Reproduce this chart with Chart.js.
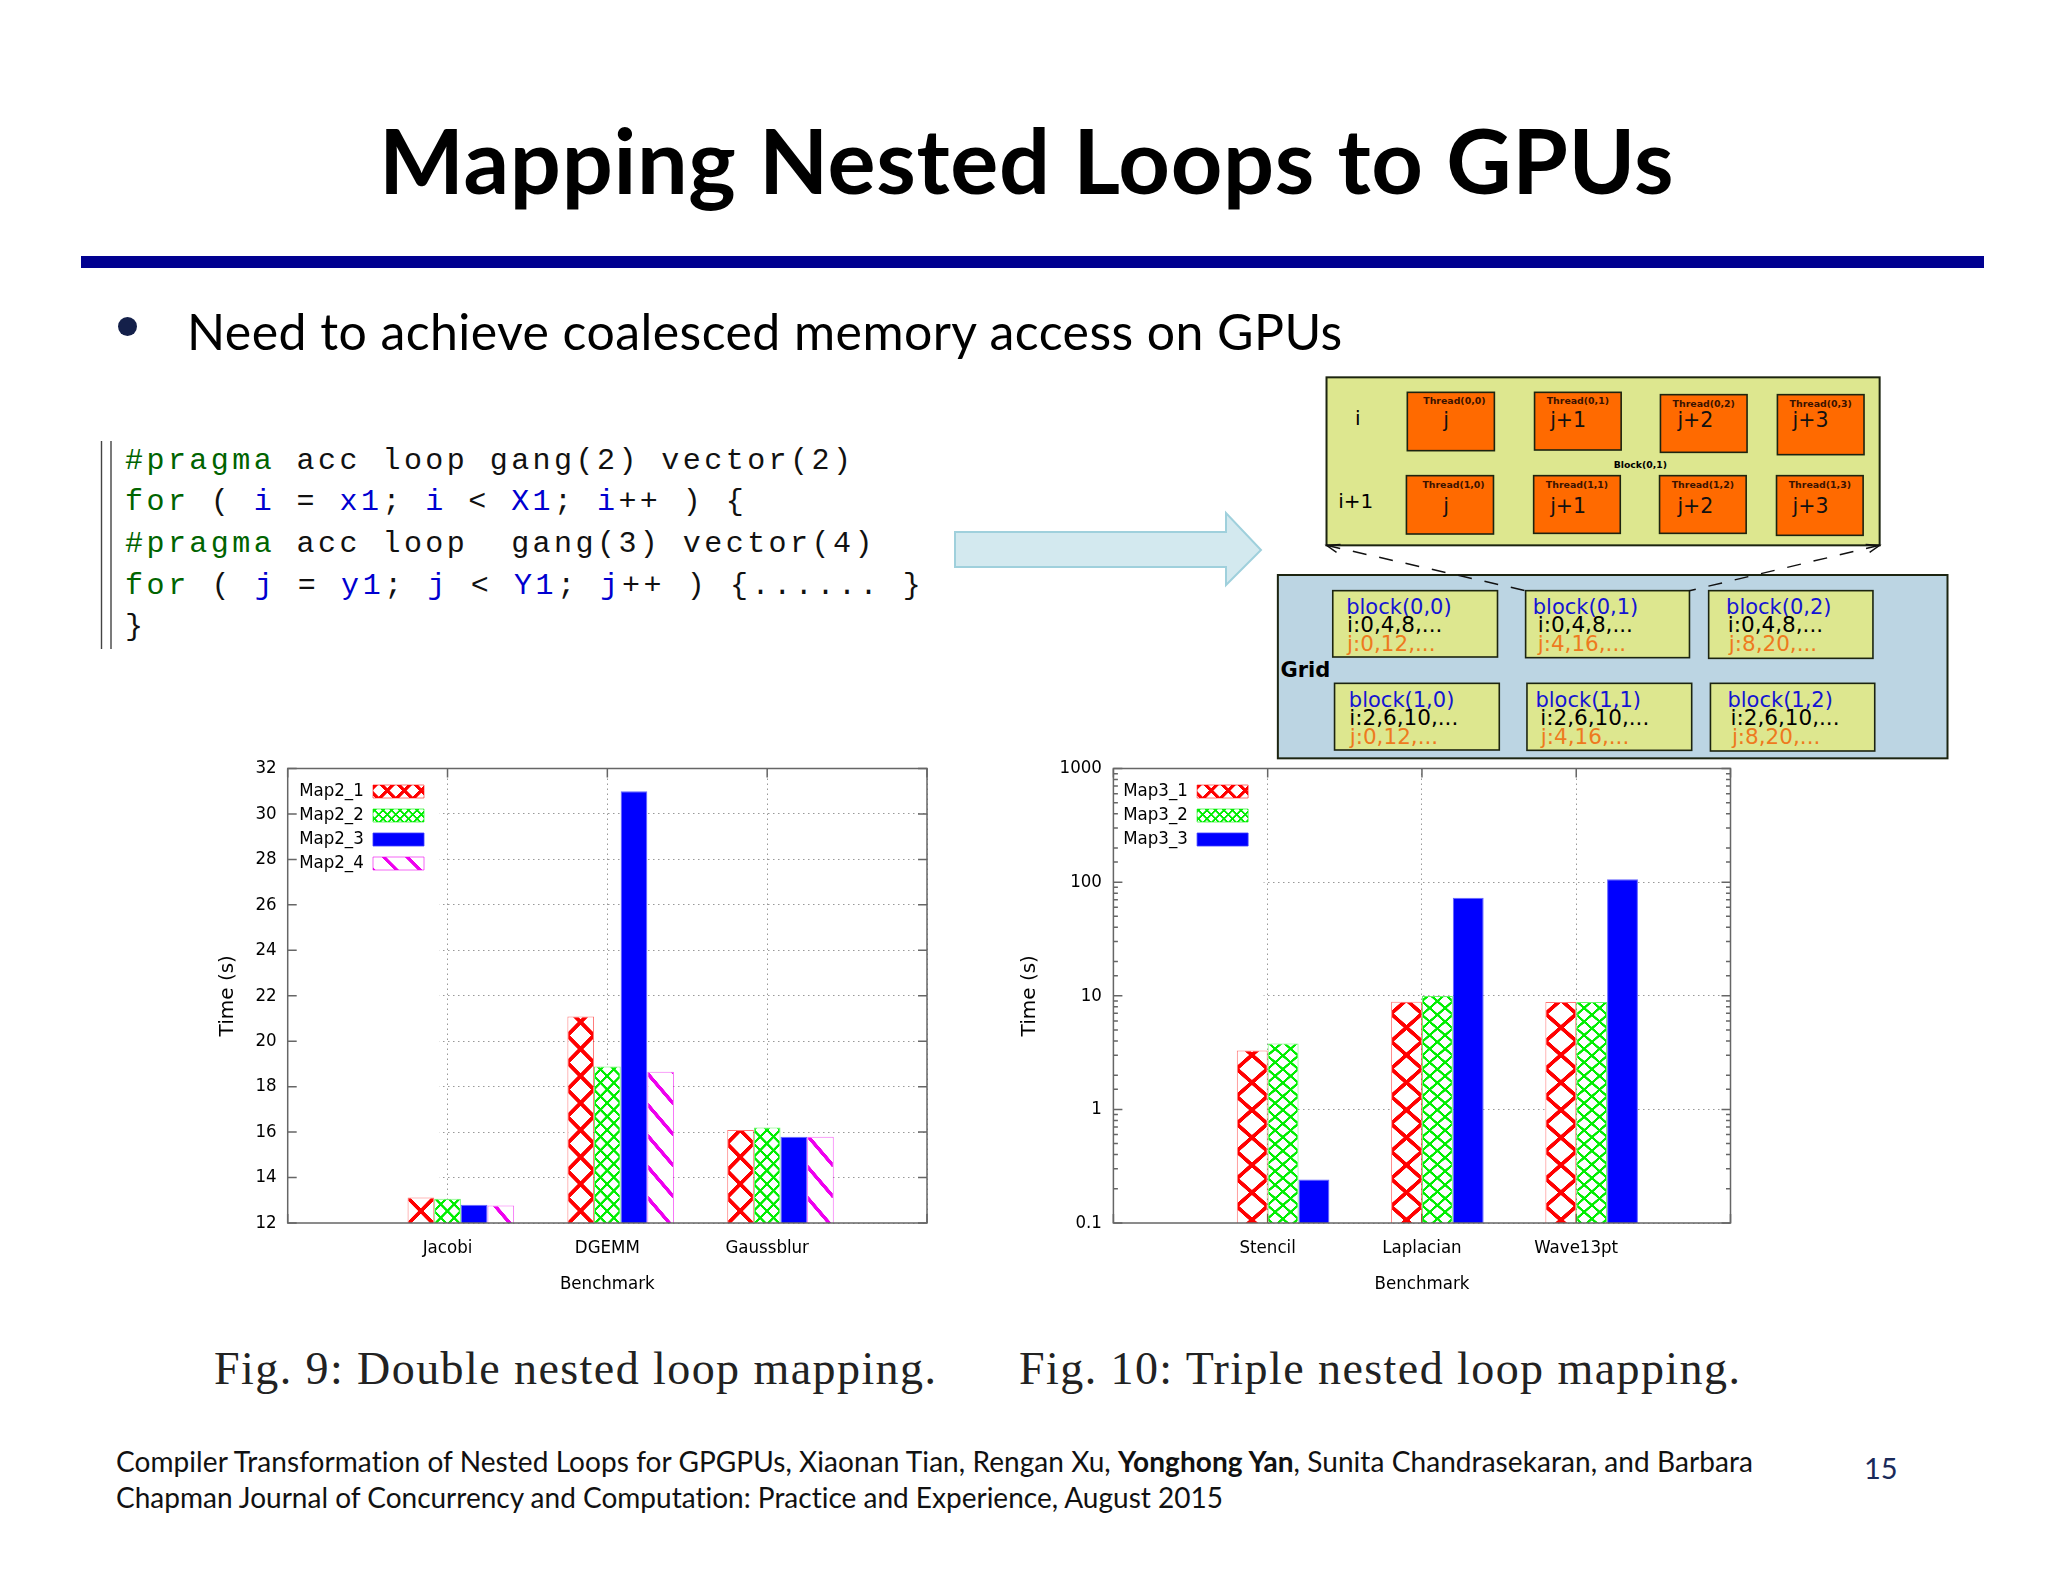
<!DOCTYPE html>
<html><head><meta charset="utf-8">
<script src="https://cdn.jsdelivr.net/npm/chart.js@4/dist/chart.umd.min.js"></script>
<style>
html,body{margin:0;padding:0;background:#fff;width:2048px;height:1582px;overflow:hidden}
.t{position:absolute;white-space:pre;color:#000;transform-origin:0 50%}
canvas{position:absolute}
#title{left:379px;top:104px;font:700 90px/110px Lato;letter-spacing:.65px}
#rule{position:absolute;left:81px;top:256px;width:1903px;height:12px;background:#000090}
#dot{position:absolute;left:118px;top:317px;width:19px;height:19px;border-radius:50%;background:#14204a}
#need{left:187px;top:298px;font:400 50px/66px Lato;letter-spacing:.43px}
.code{font:400 30px/40px "Liberation Mono";letter-spacing:3.45px;left:125px;color:#111}
.g{color:#006400}.b{color:#0000d0}
.cap{font:400 46px/56px "Liberation Serif";color:#222;letter-spacing:1.43px}
.foot{font:400 28px/36px Lato;left:116px;color:#111}
.t,.t *{font-variant-ligatures:none}
svg{position:absolute;left:0;top:0}
</style></head><body>
<div class="t" id="title">Mapping Nested Loops to GPUs</div>
<div id="rule"></div><div id="dot"></div>
<div class="t" id="need">Need to achieve coalesced memory access on GPUs</div>
<div class="t code" style="top:441px"><span class="g">#pragma</span> acc loop gang(2) vector(2)</div>
<div class="t code" style="top:482px"><span class="g">for</span> ( <span class="b">i</span> = <span class="b">x1</span>; <span class="b">i</span> &lt; <span class="b">X1</span>; <span class="b">i</span>++ ) {</div>
<div class="t code" style="top:524px"><span class="g">#pragma</span> acc loop  gang(3) vector(4)</div>
<div class="t code" style="top:566px;letter-spacing:3.6px"><span class="g">for</span> ( <span class="b">j</span> = <span class="b">y1</span>; <span class="b">j</span> &lt; <span class="b">Y1</span>; <span class="b">j</span>++ ) {...... }</div>
<div class="t code" style="top:607px">}</div>
<svg id="dia" width="2048" height="1582"></svg>
<canvas id="c1" width="760" height="580" style="left:200px;top:750px"></canvas>
<canvas id="c2" width="760" height="580" style="left:1000px;top:750px"></canvas>
<div class="t cap" id="cap1" style="left:214px;top:1341px">Fig. 9: Double nested loop mapping.</div>
<div class="t cap" id="cap2" style="left:1019px;top:1341px">Fig. 10: Triple nested loop mapping.</div>
<div class="t foot" id="f1" style="top:1443px;letter-spacing:.07px">Compiler Transformation of Nested Loops for GPGPUs, Xiaonan Tian, Rengan Xu, <b>Yonghong Yan</b>, Sunita Chandrasekaran, and Barbara</div>
<div class="t foot" id="f2" style="top:1479px">Chapman Journal of Concurrency and Computation: Practice and Experience, August 2015</div>
<div class="t" style="left:1864px;top:1450px;font:400 29px/36px Lato;color:#1a2a5a">15</div>
<script>
// ---- chart data ----
const categories1 = ['Jacobi', 'DGEMM', 'Gaussblur'];
const map2_1 = [13.12, 21.09, 16.09];
const map2_2 = [13.07, 18.89, 16.2];
const map2_3 = [12.8, 31.0, 15.8];
const map2_4 = [12.77, 18.66, 15.8];
const categories2 = ['Stencil', 'Laplacian', 'Wave13pt'];
const map3_1 = [3.3, 8.87, 8.8];
const map3_2 = [3.8, 9.93, 8.8];
const map3_3 = [0.242, 72.9, 106];
const yTicks2 = [0.1, 1, 10, 100, 1000];

const FONT = "'DejaVu Sans Condensed','DejaVu Sans'";
const padRow = a => [null, ...a, null];
const padCat = a => ['', ...a, ''];

// hatch tiles
function hatch(w, h, color, lw, kind, ox, oy) {
  const S = 4, tw = Math.round(w * S), th = Math.round(h * S);
  const c = document.createElement('canvas'); c.width = tw; c.height = th;
  const x = c.getContext('2d');
  x.fillStyle = '#fff'; x.fillRect(0, 0, tw, th);
  x.strokeStyle = color; x.lineWidth = lw * S;
  for (const dy of [-th, 0, th]) {
    x.beginPath(); x.moveTo(0, dy); x.lineTo(tw, dy + th); x.stroke();
    if (kind === 'x') { x.beginPath(); x.moveTo(tw, dy); x.lineTo(0, dy + th); x.stroke(); }
  }
  const p = document.createElement('canvas').getContext('2d').createPattern(c, 'repeat');
  p.setTransform(new DOMMatrix().translate(ox, oy).scale(w / tw, h / th));
  return p;
}
const RED = '#ff0000', GRN = '#00ee00', BLU = '#0000ff', MAG = '#ee00ee';

const framePlugin = {
  id: 'frame',
  beforeLayout(ch) {
    const L = ch.legend;
    L._layers = () => [{ z: 1, draw: a => L.draw(a) }];
  },
  afterLayout(ch, args, opts) {
    const L = ch.legend;
    L.left = opts.swatchRight - L.width; L.right = opts.swatchRight;
    L.top = opts.legendTop; L.bottom = L.top + L.height;
  },
  beforeDatasetsDraw(ch) {
    const a = ch.chartArea, g = ch.ctx, xs = ch.scales.x, ys = ch.scales.y, L = ch.legend;
    g.save();
    g.fillStyle = '#fff';
    g.fillRect(L.left - 2, L.top - 3, L.width + 12, L.height + 6);
    g.strokeStyle = '#666'; g.lineWidth = 1.5;
    g.beginPath();
    for (const t of ys.ticks) {
      const y = ys.getPixelForValue(t.value), l = (ys.type === 'logarithmic' && !t.major) ? 4.5 : 9;
      g.moveTo(a.left, y); g.lineTo(a.left + l, y);
      g.moveTo(a.right, y); g.lineTo(a.right - l, y);
    }
    xs.ticks.forEach((t, i) => {
      const x = xs.getPixelForTick(i);
      g.moveTo(x, a.top); g.lineTo(x, a.top + 9);
      g.moveTo(x, a.bottom); g.lineTo(x, a.bottom - 9);
    });
    g.stroke();
    g.restore();
  },
  afterDatasetsDraw(ch) {
    const a = ch.chartArea, g = ch.ctx;
    g.save(); g.strokeStyle = '#666'; g.lineWidth = 1.5;
    g.strokeRect(a.left, a.top, a.width, a.height); g.restore();
  }
};

function makeChart(id, cats, series, cfg) {
  const datasets = [{ label: '', data: padRow(cats.map(() => null)), backgroundColor: 'transparent' }];
  series.forEach(s => datasets.push({
    label: s.name, data: padRow(s.values), backgroundColor: s.fill, legendFill: s.legendFill,
    borderColor: s.edge, borderWidth: 1
  }));
  return new Chart(document.getElementById(id), {
    type: 'bar',
    data: { labels: padCat(cats), datasets },
    plugins: [framePlugin],
    options: {
      responsive: false, animation: false,
      layout: { padding: { left: 0, top: cfg.top, right: cfg.right, bottom: 0 } },
      datasets: { bar: { barPercentage: 1, categoryPercentage: cfg.catPct } },
      plugins: {
        frame: { swatchRight: cfg.swatchRight, legendTop: 26.75 },
        tooltip: { enabled: false },
        legend: {
          position: 'chartArea', align: 'start', rtl: true, textDirection: 'ltr',
          padding: 0,
          labels: {
            boxWidth: 51, boxHeight: 13, padding: 5.5, color: '#000',
            font: { family: FONT, size: 18.5 },
            generateLabels: ch => ch.data.datasets.slice(1).map((d, i) => ({
              text: d.label, fillStyle: d.legendFill, strokeStyle: d.borderColor, lineWidth: 1, datasetIndex: i + 1
            }))
          }
        }
      },
      scales: {
        x: {
          type: 'category', offset: false,
          afterFit: s => { s.height = 107; },
          grid: { color: '#999', drawTicks: false, offset: false },
          border: { display: false, dash: [1.5, 3.5] },
          ticks: { color: '#000', padding: 14, autoSkip: false, maxRotation: 0, font: { family: FONT, size: 18.5 } },
          title: { display: true, text: 'Benchmark', color: '#000', font: { family: FONT, size: 18.5 }, padding: { top: 0, bottom: 35 } }
        },
        y: cfg.y
      }
    }
  });
}

function yCommon(width, titlePad) {
  return {
    afterFit: s => { s.width = width; s.paddingTop = 0; s.paddingBottom = 0; },
    border: { display: false, dash: [1.5, 3.5] },
    title: { display: true, text: 'Time (s)', color: '#000', font: { family: "'DejaVu Sans'", size: 20 }, padding: { top: titlePad, bottom: 0 } }
  };
}

// Fig 9 : offsets are canvas positions of the first bar edge of each series
const bw1 = 26.62, left1 = 207.5, crossY1 = 272;
makeChart('c1', categories1, [
  { name: 'Map2_1', values: map2_1, edge: 'rgba(255,0,0,.55)', fill: hatch(bw1, 27, RED, 3.8, 'x', left1, crossY1 - 13.5), legendFill: hatch(17, 17, RED, 3.2, 'x', 178.8, 15) },
  { name: 'Map2_2', values: map2_2, edge: 'rgba(0,238,0,.6)', fill: hatch(bw1 / 2, 13.5, GRN, 2.3, 'x', left1 + bw1, crossY1), legendFill: hatch(8.5, 8.5, GRN, 1.8, 'x', 178.8, 56) },
  { name: 'Map2_3', values: map2_3, edge: 'rgba(60,60,255,.8)', fill: BLU, legendFill: BLU },
  { name: 'Map2_4', values: map2_4, edge: 'rgba(238,0,238,.6)', fill: hatch(bw1, 31, MAG, 3.6, 's', left1 + 3 * bw1, 323), legendFill: hatch(23.3, 23.3, MAG, 3.2, 's', 178.8, 102) }
], {
  top: 18.5, right: 33, catPct: 5 / 6, swatchRight: 229.5,
  y: Object.assign(yCommon(87.7, 15.5), {
    min: 12, max: 32,
    grid: { color: '#999', drawTicks: false },
    ticks: { stepSize: 2, color: '#000', padding: 11, font: { family: FONT, size: 18.5 } }
  })
});

// Fig 10
const bw2 = 30.9, left2 = 236.5, crossY2 = 360;
makeChart('c2', categories2, [
  { name: 'Map3_1', values: map3_1, edge: 'rgba(255,0,0,.55)', fill: hatch(bw2, 27.5, RED, 3.8, 'x', left2, crossY2 - 13.75), legendFill: hatch(17, 17, RED, 3.2, 'x', 202.7, 15) },
  { name: 'Map3_2', values: map3_2, edge: 'rgba(0,238,0,.6)', fill: hatch(bw2 / 2, 13.6, GRN, 2.3, 'x', left2 + bw2, crossY2), legendFill: hatch(8.5, 8.5, GRN, 1.8, 'x', 202.7, 56) },
  { name: 'Map3_3', values: map3_3, edge: 'rgba(60,60,255,.8)', fill: BLU, legendFill: BLU }
], {
  top: 18.5, right: 29.5, catPct: 0.8, swatchRight: 253.6,
  y: Object.assign(yCommon(113.4, 18), {
    type: 'logarithmic', min: 0.1, max: 1000,
    grid: { color: c => (c.tick && c.tick.major ? '#999' : 'transparent'), drawTicks: false },
    ticks: {
      color: '#000', padding: 11.5, autoSkip: false, font: { family: FONT, size: 18.5 },
      callback: v => (yTicks2.includes(Number(v)) ? String(v) : '')
    }
  })
});

// ---- slide diagram (decoration) ----
const NS = 'http://www.w3.org/2000/svg', svg = document.getElementById('dia');
function el(n, a, txt) { const e = document.createElementNS(NS, n); for (const k in a) e.setAttribute(k, a[k]); if (txt) e.textContent = txt; svg.appendChild(e); return e; }
const X = v => 1260 + v / 2.24, Y = v => 370 + v / 3;
const box = (x0, y0, x1, y1, fill, sw) => el('rect', { x: X(x0), y: Y(y0), width: (x1 - x0) / 2.24, height: (y1 - y0) / 3, fill, stroke: '#1c2410', 'stroke-width': sw || 1.6 });
const txt = (x, y, s, size, color, weight, anchor) => el('text', { x: X(x), y: Y(y), 'font-family': 'DejaVu Sans', 'font-size': size, fill: color || '#000', 'font-weight': weight || 400, 'text-anchor': anchor || 'start' }, s);
// arrow
el('path', { d: 'M955 532H1226V513L1261 550L1226 585V567H955Z', fill: '#d3e9ef', stroke: '#9fd0dc', 'stroke-width': 2 });
// bars left of code
el('path', { d: 'M101.5 441V649M111 441V649', stroke: '#444', 'stroke-width': 1.4, fill: 'none' });
// upper box
box(149, 22, 1388, 526, '#dde78f', 2);
txt(219, 166, 'i', 20, '#000', 400, 'middle');
txt(175, 415, 'i+1', 20);
txt(852, 295, 'Block(0,1)', 9.3, '#000', 700, 'middle');
const threads = [
  [330, 67, 525, 242, 'Thread(0,0)', 'j', 417], [615, 67, 809, 240, 'Thread(0,1)', 'j+1', 650], [897, 74, 1091, 247, 'Thread(0,2)', 'j+2', 935], [1159, 74, 1353, 254, 'Thread(0,3)', 'j+3', 1193],
  [328, 317, 523, 492, 'Thread(1,0)', 'j', 417], [613, 317, 807, 490, 'Thread(1,1)', 'j+1', 650], [895, 317, 1089, 490, 'Thread(1,2)', 'j+2', 935], [1157, 317, 1351, 496, 'Thread(1,3)', 'j+3', 1193]
];
threads.forEach((t, i) => {
  box(t[0], t[1], t[2], t[3], '#ff6a00', 1.6);
  txt((t[0] + t[2]) / 2 + (i % 4 === 0 ? 8 : 0), t[1] + 36, t[4], 9.4, '#3a1200', 700, 'middle');
  txt(t[6], i < 4 ? 172 : 430, t[5], 20.5, '#111', 400, t[5] === 'j' ? 'middle' : 'start');
});
// lower box
box(40, 615, 1540, 1165, '#bcd5e3', 2);
txt(46, 920, 'Grid', 21, '#000', 700);
const blocks = [
  [163, 662, 532, 861, 'block(0,0)', 'i:0,4,8,...', 'j:0,12,...', 193, 195, 195],
  [595, 662, 962, 863, 'block(0,1)', 'i:0,4,8,...', 'j:4,16,...', 611, 622, 622],
  [1005, 662, 1373, 865, 'block(0,2)', 'i:0,4,8,...', 'j:8,20,...', 1044, 1048, 1050],
  [167, 940, 536, 1140, 'block(1,0)', 'i:2,6,10,...', 'j:0,12,...', 199, 200, 201],
  [598, 940, 967, 1141, 'block(1,1)', 'i:2,6,10,...', 'j:4,16,...', 617, 628, 629],
  [1009, 940, 1377, 1143, 'block(1,2)', 'i:2,6,10,...', 'j:8,20,...', 1047, 1054, 1057]
];
blocks.forEach((b, i) => {
  box(b[0], b[1], b[2], b[3], '#dde78f', 1.6);
  const base = i < 3 ? 0 : 279;
  txt(b[7], 732 + base, b[4], 21, '#1414d2');
  txt(b[8], 786 + base, b[5], 21.5, '#000');
  txt(b[9], 844 + base, b[6], 21.5, '#ee7a1e');
});
// dashed connectors
el('path', { d: `M${X(149)} ${Y(526)}L${X(595)} ${Y(662)}M${X(1388)} ${Y(526)}L${X(962)} ${Y(662)}`, stroke: '#111', 'stroke-width': 1.5, 'stroke-dasharray': '14 13', fill: 'none' });
el('path', { d: `M${X(149) + 14} ${Y(526) - 1}L${X(149)} ${Y(526)}L${X(149) + 10} ${Y(526) + 7}M${X(1388) - 14} ${Y(526) - 1}L${X(1388)} ${Y(526)}L${X(1388) - 10} ${Y(526) + 7}`, stroke: '#111', 'stroke-width': 1.4, fill: 'none' });
</script>
</body></html>
